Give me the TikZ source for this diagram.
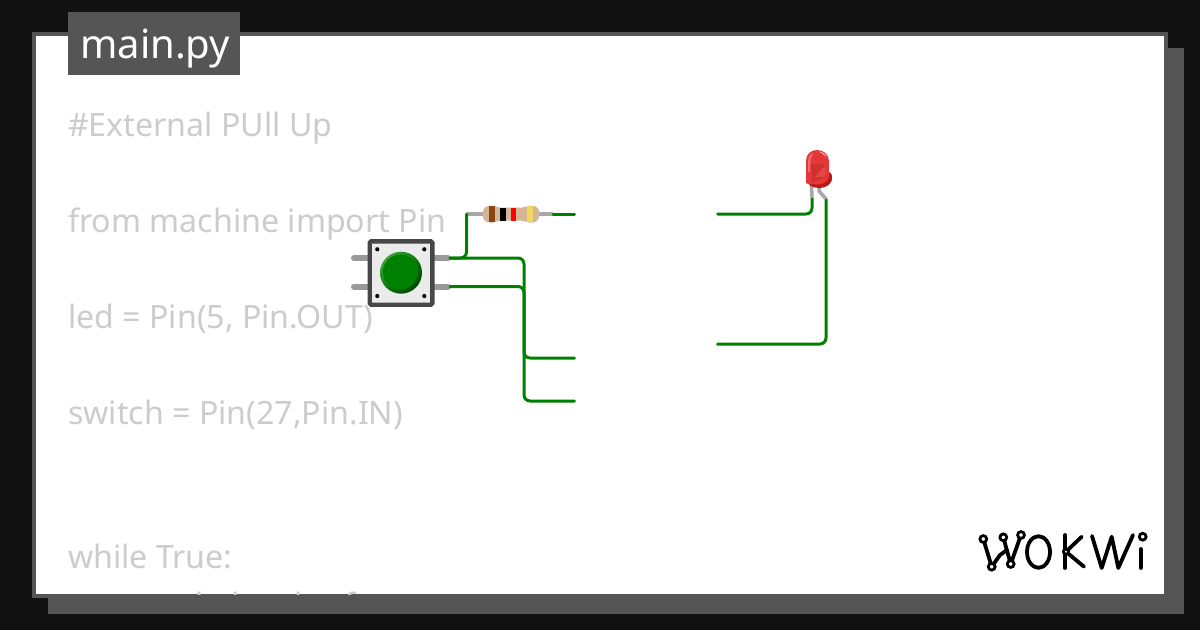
\documentclass[tikz,border=0pt]{standalone}
\usepackage{fontspec}
\usetikzlibrary{shadings}
\setmainfont{Noto Sans}
\definecolor{pagebg}{HTML}{111111}
\definecolor{framegray}{HTML}{555555}
\definecolor{codegray}{HTML}{CCCCCC}
\definecolor{wiregreen}{HTML}{008000}
\definecolor{leadgray}{HTML}{A8A8A8}
\tikzset{
  codeline/.style={anchor=base west,inner sep=0pt,text=codegray,font=\fontsize{32.15}{38}\selectfont},
  wire/.style={draw=wiregreen,line width=3pt,rounded corners=6pt,line cap=round},
  lead/.style={draw=leadgray,line width=3.5pt},
  pinlead/.style={draw=black!40,line width=6pt,line cap=round},
  logo/.style={draw=black,line width=3.8pt,line cap=round,line join=round},
  logodot/.style={draw=black,fill=white,line width=2.8pt},
}
\begin{document}
\begin{tikzpicture}[x=1pt,y=-1pt]
\useasboundingbox (0,0) rectangle (1200,630);
\fill[pagebg] (0,0) rectangle (1200,630);
\fill[framegray] (48,48) rectangle (1184,614);
\fill[framegray] (32,32) rectangle (1168,598);
\fill[white] (36,36) rectangle (1164,594);
% code
\node[codeline] (c1) at (68,136) {\#External PUll Up};
\node[codeline] (c2) at (68,232) {from machine import Pin};
\node[codeline] (c3) at (68,328) {led = Pin(5, Pin.OUT)};
\node[codeline] (c4) at (68,424) {switch = Pin(27,Pin.IN)};
\node[codeline] (c5) at (68,568) {while True:};
\begin{scope}
\clip (36,560) rectangle (1164,594);
\node[codeline] (c6a) at (195,616) {l};
\node[codeline] (c6b) at (231,616) {l};
\node[codeline] (c6c) at (294,616) {l};
\node[codeline] (c6d) at (344,616) {f};
\end{scope}
% tab
\fill[framegray] (68,12) rectangle (240,75);
\node[anchor=base west,inner sep=0pt,text=white,font=\fontsize{40}{48}\selectfont] (tab) at (80,58) {main.py};
% named wire ends
\coordinate (btnA) at (450,258);
\coordinate (btnB) at (450,286.5);
\coordinate (resL) at (466.5,214);
\coordinate (resR) at (553,214);
\coordinate (chipA) at (574.5,214);
\coordinate (chipB) at (574.5,358);
\coordinate (chipC) at (574.5,401);
\coordinate (chipD) at (717.5,214);
\coordinate (chipE) at (717.5,344);
\coordinate (ledA) at (812,198);
\coordinate (ledC) at (826,199);
% resistor
\draw[lead] (resL) -- (resR);
\path[fill={rgb,255:red,213;green,181;blue,152}]
  (482.5,214) .. controls (482.5,208) and (486,205.7) .. (491,205.7)
  .. controls (495,205.7) and (497,207.5) .. (500,207.5) -- (522,207.5)
  .. controls (525,207.5) and (527,205.7) .. (531,205.7)
  .. controls (536,205.7) and (539.5,208) .. (539.5,214)
  .. controls (539.5,220) and (536,222.7) .. (531,222.7)
  .. controls (527,222.7) and (525,220.7) .. (522,220.7) -- (500,220.7)
  .. controls (497,220.7) and (495,222.7) .. (491,222.7)
  .. controls (486,222.7) and (482.5,220) .. (482.5,214) -- cycle;
\fill[fill={rgb,255:red,139;green,69;blue,19}] (489,206) rectangle (495,222.4);
\fill[black] (500.3,207.5) rectangle (506,220.7);
\fill[red] (510.7,207.5) rectangle (516,220.7);
\fill[fill={rgb,255:red,240;green,216;blue,96}] (526.7,206) rectangle (532.7,222.4);
% button
\draw[pinlead] (354,258.3) -- (368,258.3);
\draw[pinlead] (354,286.7) -- (368,286.7);
\draw[pinlead] (434,258.3) -- (448,258.3);
\draw[pinlead] (434,286.7) -- (448,286.7);
\draw[draw=black!72,fill=black!8,line width=4.4pt,rounded corners=1.5pt] (369.7,241.3) rectangle (432.3,304.7);
\foreach \p/\q in {377.3/249.3,424.3/249.3,377.3/296,424.3/296}
  \fill[black] (\p,\q) circle (2.1);
\shade[upper left=wiregreen!65!white,lower right=wiregreen!35!black,upper right=wiregreen,lower left=wiregreen] (401,272.7) circle (21);
\fill[wiregreen] (400.5,272) circle (17.5);
% wires
\draw[wire] (btnA) -- (466.5,258) -- (resL);
\draw[wire] (btnA) -- (524,258) -- (524,358) -- (chipB);
\draw[wire] (btnB) -- (524,286.5) -- (524,401) -- (chipC);
\draw[wire] (resR) -- (chipA);
\draw[wire] (chipD) -- (812,214) -- (ledA);
\draw[wire] (chipE) -- (826,344) -- (ledC);
% LED
\draw[lead] (811.5,185) -- (ledA);
\draw[lead] (819,188) -- (819,191) -- (ledC);
\path[fill={rgb,255:red,190;green,25;blue,25}]
  (806,178) .. controls (806,176) and (806,174) .. (808,173) -- (829,172)
  .. controls (832,173) and (832.5,177) .. (832,180)
  .. controls (830,185) and (826,187.5) .. (820,188)
  .. controls (813,188) and (807,186) .. (806,178) -- cycle;
\path[fill={rgb,255:red,228;green,55;blue,55}]
  (806,183) -- (806,161) .. controls (806,154) and (811,150) .. (817,150)
  .. controls (823,150) and (829,154) .. (829,161) -- (829,176)
  .. controls (829,181) and (823,184.5) .. (817,184.5)
  .. controls (812,184.5) and (808,184.5) .. (806,183) -- cycle;
\path[fill={rgb,255:red,208;green,48;blue,48}] (811.5,164) -- (825,164) -- (825,177) -- (811.5,182) -- cycle;
\path[fill={rgb,255:red,226;green,70;blue,70}] (825,165) -- (825,177) -- (815,177) -- cycle;
\path[fill={rgb,255:red,240;green,110;blue,110}] (808,163) .. controls (808,157) and (810,154) .. (813,153) -- (813,154) .. controls (811,157) and (810,160) .. (810,172) -- (808,172) -- cycle;
\path[fill={rgb,255:red,250;green,170;blue,170}] (819,151.5) .. controls (823,152) and (826,154) .. (827,157) .. controls (824,155) and (822,153.5) .. (819,151.5) -- cycle;
% WOKWI logo
\draw[logo] (983.3,539) -- (991.7,566.7);
\draw[logo] (991.7,566.7) -- (1000,555) -- (1007,550);
\draw[logo] (1003.3,537.3) -- (1010.7,564) -- (1021,535);
\foreach \p/\q in {983.3/539,1003.3/537.3,1021/535,991.7/566.7,1010.7/564}
  \draw[logodot] (\p,\q) circle (3.4);
\draw[logo] (1038.5,552) ellipse (11.5 and 15.8);
\draw[logo] (1065,535) -- (1065,568);
\draw[logo] (1066,551.7) -- (1081.7,536.7);
\draw[logo] (1066,551.7) -- (1084,566.7);
\draw[logodot] (1066,551.7) circle (2.6);
\draw[logo] (1092,536) -- (1101.7,568) -- (1111.7,536.7) -- (1118.3,568) -- (1133,535);
\draw[logo] (1140.7,549) -- (1140.7,568);
\draw[logodot] (1142.7,536.7) circle (3.4);
\end{tikzpicture}
\end{document}
